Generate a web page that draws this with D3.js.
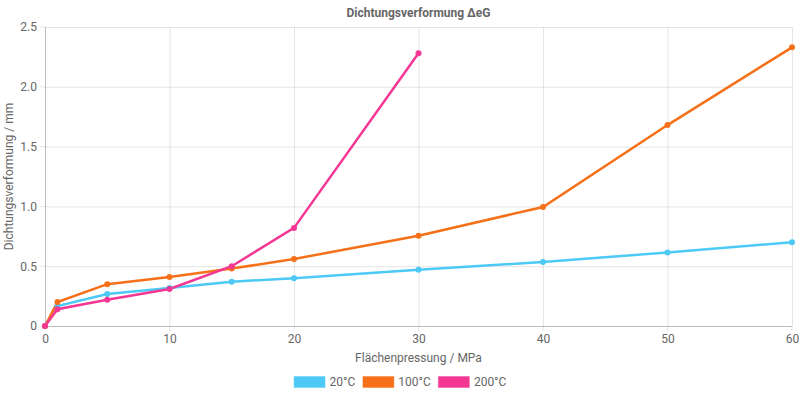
<!DOCTYPE html>
<html><head><meta charset="utf-8">
<script src="https://cdn.jsdelivr.net/npm/d3@7"></script>
<style>body{margin:0;background:#fff;}svg{display:block;font-family:Roboto,"Helvetica Neue",Arial,sans-serif;}</style>
</head><body><svg id="c" width="800" height="395"></svg>
<script>
const xTicks = [0,10,20,30,40,50,60];
const yTicks = [0,0.5,1.0,1.5,2.0,2.5];
const seriesNames = ["20°C","100°C","200°C"];
const seriesColors = ["#4dc9f6","#f67019","#f53794"];
const x20 = [0,1,5,10,15,20,30,40,50,60];
const y20 = [0,0.167,0.267,0.318,0.37,0.40,0.47,0.535,0.615,0.70];
const x100 = [0,1,5,10,15,20,30,40,50,60];
const y100 = [0,0.20,0.35,0.41,0.48,0.56,0.755,0.995,1.68,2.33];
const x200 = [0,1,5,10,15,20,30];
const y200 = [0,0.14,0.22,0.31,0.50,0.82,2.28];

const svg = d3.select("#c");
const L=45,R=792,T=27,B=326;
const x = d3.scaleLinear().domain([0,60]).range([L,R]);
const y = d3.scaleLinear().domain([0,2.5]).range([B,T]);

svg.append("text").attr("x",(L+R)/2).attr("y",17).attr("text-anchor","middle")
  .attr("font-size",12).attr("font-weight","bold").attr("fill","#666").text("Dichtungsverformung ΔeG");

const gx = svg.append("g").attr("transform",`translate(0,${B})`)
  .call(d3.axisBottom(x).tickValues(xTicks).tickSize(-(B-T)).tickPadding(8).tickFormat(d3.format("d")));
gx.select(".domain").remove();
gx.selectAll("line").attr("stroke","rgba(0,0,0,0.1)");
gx.selectAll("text").attr("fill","#666").attr("font-size",12).attr("font-family","Roboto");
gx.selectAll(".tick").filter(d=>d===0).select("line").attr("stroke","rgba(0,0,0,0.25)");

const gy = svg.append("g").attr("transform",`translate(${L},0)`)
  .call(d3.axisLeft(y).tickValues(yTicks).tickSize(-(R-L)).tickPadding(8).tickFormat(d=>d===0?"0":d3.format(".1f")(d)));
gy.select(".domain").remove();
gy.selectAll("line").attr("stroke","rgba(0,0,0,0.1)");
gy.selectAll("text").attr("fill","#666").attr("font-size",12).attr("font-family","Roboto");
gy.selectAll(".tick").filter(d=>d===0).select("line").attr("stroke","rgba(0,0,0,0.25)");
svg.append("g").selectAll("line").data(yTicks).join("line")
  .attr("x1",L-5).attr("x2",L).attr("y1",d=>y(d)).attr("y2",d=>y(d)).attr("stroke","rgba(0,0,0,0.1)");
svg.append("g").selectAll("line").data(xTicks).join("line")
  .attr("y1",B).attr("y2",B+5).attr("x1",d=>x(d)).attr("x2",d=>x(d)).attr("stroke","rgba(0,0,0,0.1)");

svg.append("text").attr("transform",`translate(13,${(T+B)/2}) rotate(-90)`).attr("text-anchor","middle")
  .attr("font-size",12).attr("fill","#666").text("Dichtungsverformung / mm");
svg.append("text").attr("x",(L+R)/2).attr("y",362).attr("text-anchor","middle")
  .attr("font-size",12).attr("fill","#666").text("Flächenpressung / MPa");

const data = [[x20,y20],[x100,y100],[x200,y200]];
const line = d3.line().x(d=>x(d[0])).y(d=>y(d[1]));
data.forEach((s,i)=>{
  const pts = s[0].map((v,j)=>[v,s[1][j]]);
  svg.append("path").datum(pts).attr("d",line).attr("fill","none")
    .attr("stroke",seriesColors[i]).attr("stroke-width",2.5);
});
data.forEach((s,i)=>{
  const pts = s[0].map((v,j)=>[v,s[1][j]]);
  svg.append("g").selectAll("circle").data(pts).join("circle")
    .attr("cx",d=>x(d[0])).attr("cy",d=>y(d[1])).attr("r",3).attr("fill",seriesColors[i]);
});

// legend
const lg = svg.append("g");
const items = seriesNames.map((n,i)=>{
  const g = lg.append("g");
  g.append("rect").attr("x",0).attr("y",376).attr("width",32).attr("height",12)
    .attr("fill",seriesColors[i]).attr("stroke","rgba(255,255,255,0.6)");
  const t = g.append("text").attr("x",36).attr("y",386).attr("font-size",12).attr("fill","#666").text(n);
  return {g, w: 36 + t.node().getComputedTextLength()};
});
const gap = 7;
const total = items.reduce((a,b)=>a+b.w,0) + gap*(items.length-1);
let lx = 400 - total/2;
items.forEach(it=>{ it.g.attr("transform",`translate(${lx},0)`); lx += it.w + gap; });
</script></body></html>
